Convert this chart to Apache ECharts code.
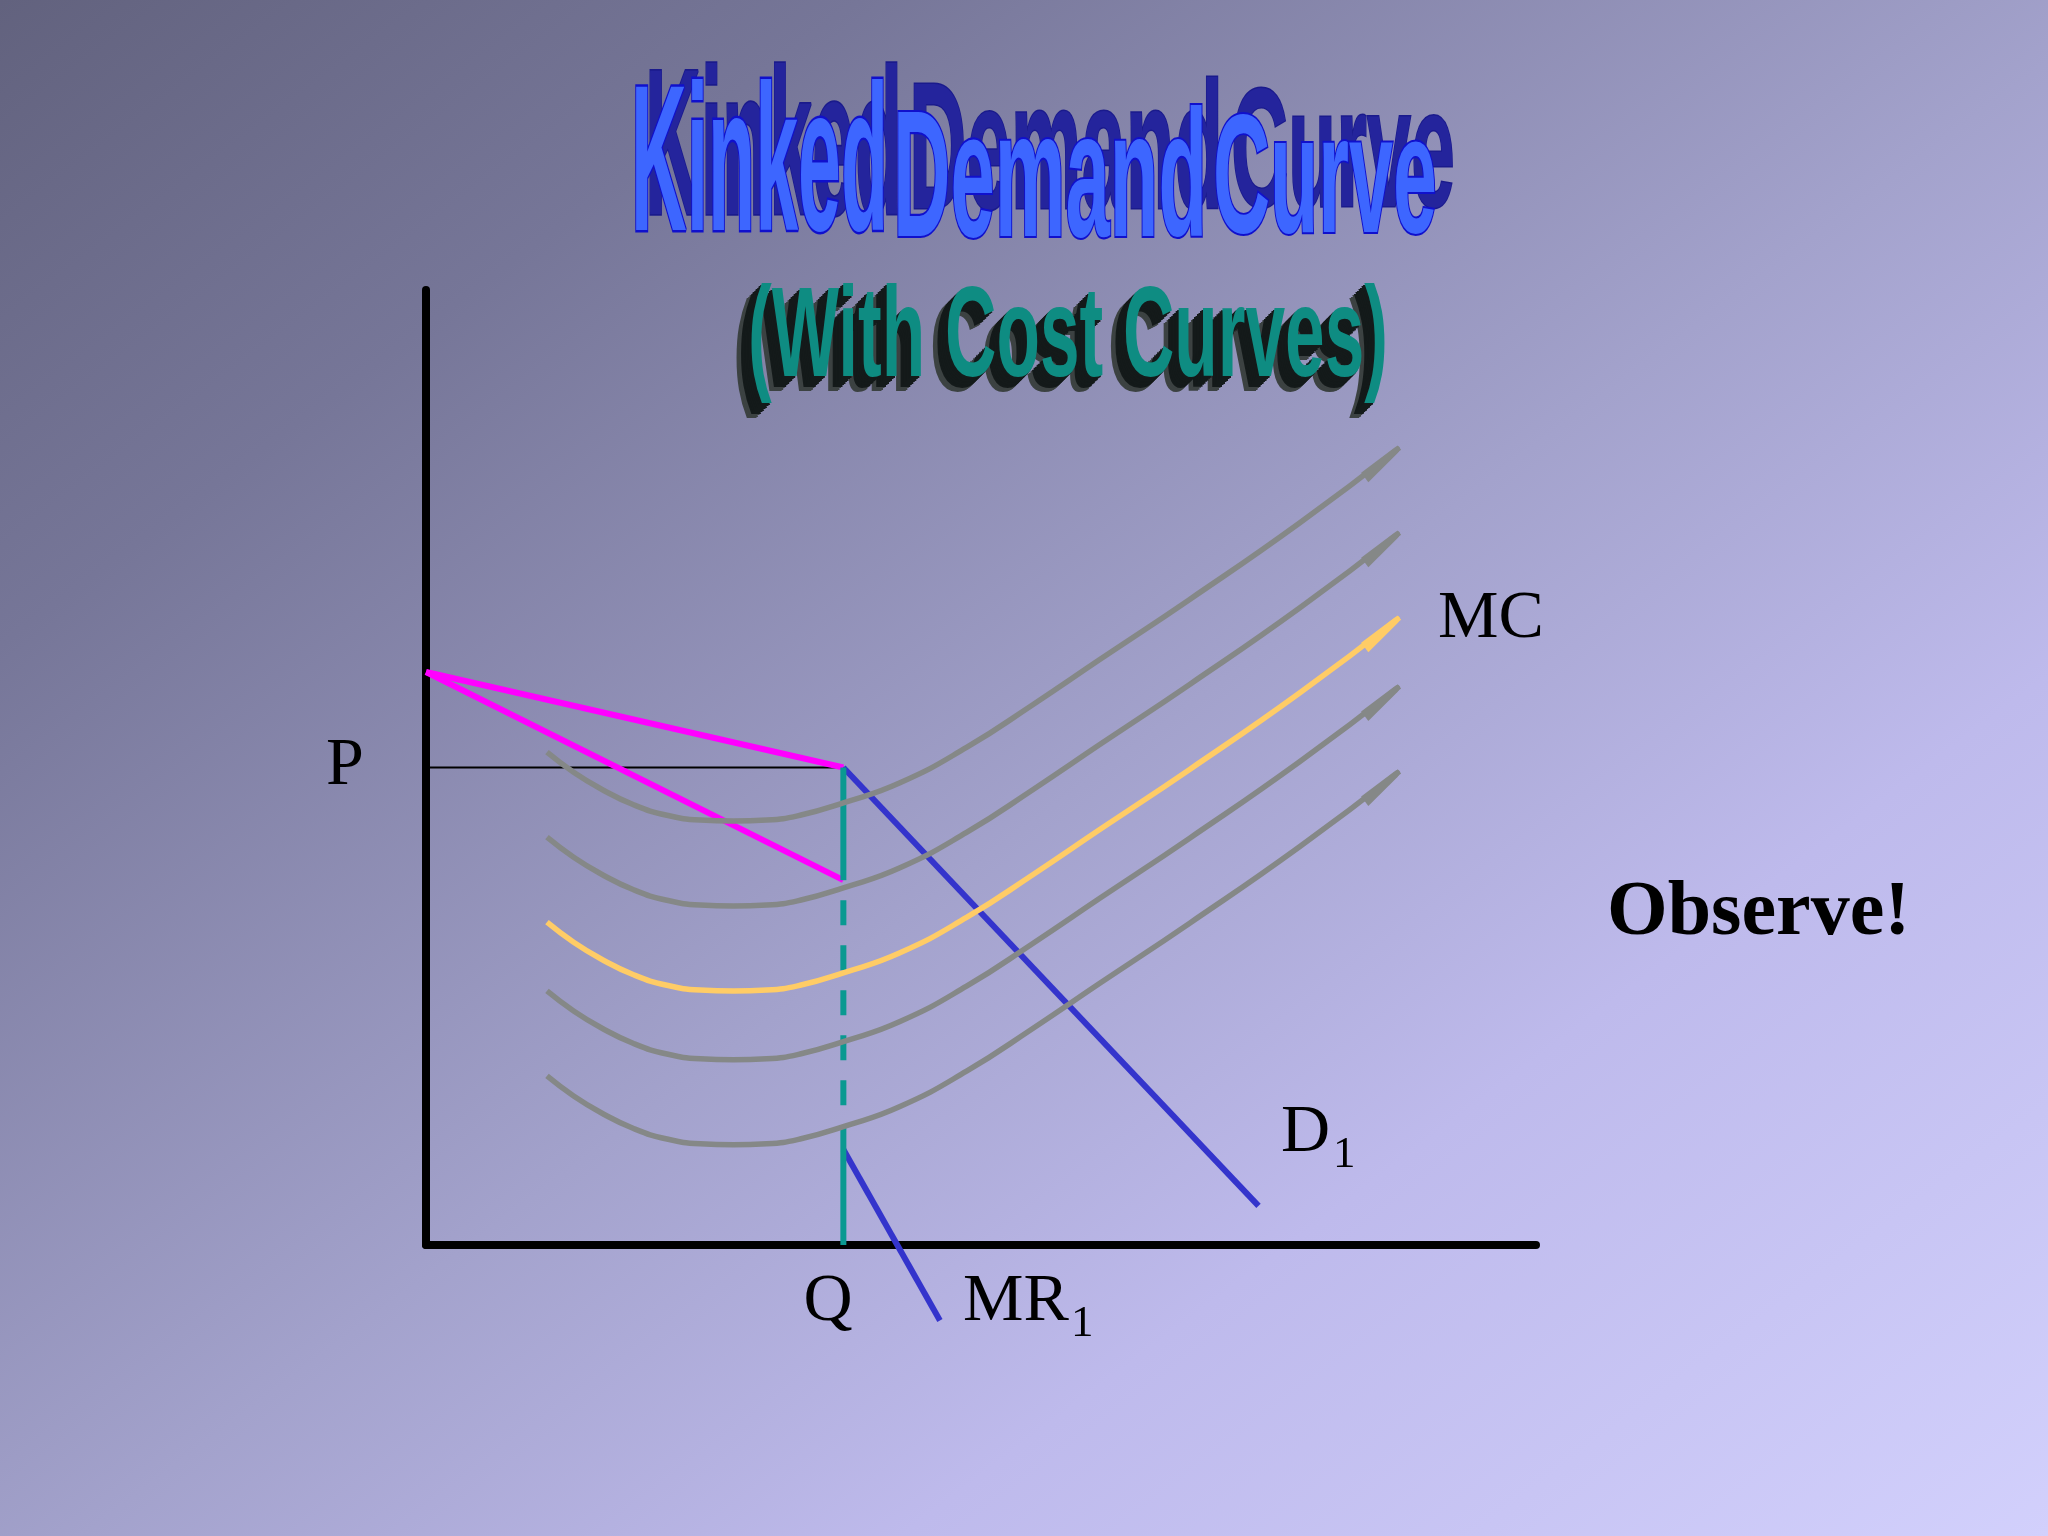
<!DOCTYPE html>
<html>
<head>
<meta charset="utf-8">
<title>Kinked Demand Curve</title>
<script src="https://cdn.jsdelivr.net/npm/echarts@6/dist/echarts.min.js"></script>
<style>
  html, body { margin: 0; padding: 0; }
  body {
    width: 2048px; height: 1536px; overflow: hidden;
    background: linear-gradient(to bottom right, #62627e 0%, #767698 21%, #a3a2cc 52%, #bebaec 72%, #d2d0fc 100%);
  }
  #chart { width: 2048px; height: 1536px; }
</style>
</head>
<body>
<div id="chart"></div>
<script>
// quantity / price scale runs 0..100 on both axes
const Q = 37.6
const P = 50

const priceLine = [[0, P], [Q, P]]
const demandUpper = [[0, 60], [Q, P]]
const mrUpper = [[0, 60], [Q, 38.2]]
const demandLower = [[Q, P], [75, 4.1]]
const mrLower = [[Q, 10], [46.3, -7.9]]
const qSolidTop = [[Q, P], [Q, 38.2]]
const qDashed = [[Q, 38.2], [Q, 12.3]]
const qSolidBottom = [[Q, 12.3], [Q, 0]]

// marginal cost curves
const costX = [10.9, 13.3, 15.7, 18.7, 21.7, 24.7, 27.7, 30.7, 33.7, 37.6, 42.7, 48.7, 54.7, 60.7, 68.8, 78.7, 87.7]
const cost1 = [51.6, 49.5, 47.8, 46.1, 45.0, 44.5, 44.4, 44.5, 45.0, 46.3, 48.4, 52.1, 56.6, 61.3, 67.6, 75.6, 83.5]
const cost2 = [42.7, 40.6, 38.9, 37.2, 36.1, 35.6, 35.5, 35.6, 36.1, 37.4, 39.5, 43.2, 47.7, 52.4, 58.7, 66.7, 74.6]
const costMC = [33.8, 31.7, 30.0, 28.3, 27.2, 26.7, 26.6, 26.7, 27.2, 28.5, 30.6, 34.3, 38.8, 43.5, 49.8, 57.8, 65.7]
const cost4 = [26.6, 24.5, 22.8, 21.1, 20.0, 19.5, 19.4, 19.5, 20.0, 21.3, 23.4, 27.1, 31.6, 36.3, 42.6, 50.6, 58.5]
const cost5 = [17.7, 15.6, 13.9, 12.2, 11.1, 10.6, 10.5, 10.6, 11.1, 12.4, 14.5, 18.2, 22.7, 27.4, 33.7, 41.7, 49.6]

const GRAY = '#858887'
const YELLOW = '#ffcc66'
const MAGENTA = '#ff00ff'
const BLUE = '#3434cc'
const TEAL = '#0a9991'

const costCurves = [
  { id: 'c1', y: cost1, color: GRAY },
  { id: 'c2', y: cost2, color: GRAY },
  { id: 'mc', y: costMC, color: YELLOW },
  { id: 'c4', y: cost4, color: GRAY },
  { id: 'c5', y: cost5, color: GRAY }
]

const chart = echarts.init(document.getElementById('chart'))

function seg (id, data, color, width, extra) {
  return Object.assign({
    id: id,
    type: 'line',
    data: data,
    symbol: 'none',
    silent: true,
    clip: false,
    lineStyle: { color: color, width: width, cap: 'butt' }
  }, extra || {})
}

function pairs (xs, ys) {
  return xs.map((x, i) => [x, ys[i]])
}

// stretch a word so it fills a box, like the word art
const measureCtx = document.createElement('canvas').getContext('2d')
function wordArt (text, font, size, left, capMid, width, capH, style, dx, dy) {
  measureCtx.font = 'bold ' + size + 'px ' + font
  const w = measureCtx.measureText(text).width
  return {
    type: 'text',
    x: left + (dx || 0),
    y: capMid + (dy || 0),
    scaleX: width / w,
    scaleY: capH / (size * 0.70),
    originX: 0,
    originY: 0,
    silent: true,
    style: Object.assign({
      text: text,
      fontSize: size,
      fontWeight: 'bold',
      fontFamily: font,
      align: 'left',
      verticalAlign: 'middle'
    }, style)
  }
}

const SANS = '"Liberation Sans", Arial, sans-serif'
const titleWords = [
  { text: 'Kinked', left: 631, mid: 172, w: 257, h: 146, dx: 14, dy: -16 },
  { text: 'Demand', left: 893, mid: 186, w: 314, h: 126, dx: 16, dy: -28 },
  { text: 'Curve', left: 1213, mid: 186, w: 224, h: 118, dx: 18, dy: -26 }
]

const graphics = []
titleWords.forEach(t => {
  graphics.push(wordArt(t.text, SANS, 60, t.left, t.mid, t.w, t.h,
    { fill: '#24249c', stroke: '#1a1a8c', lineWidth: 1 }, t.dx, t.dy))
})
titleWords.forEach(t => {
  graphics.push(wordArt(t.text, SANS, 60, t.left, t.mid, t.w, t.h,
    { fill: '#3d66ff', stroke: '#1010cc', lineWidth: 1.4 }))
})

// subtitle with a dark extrusion
const subText = '(With Cost Curves)'
for (let k = 10; k >= 1; k--) {
  graphics.push(wordArt(subText, SANS, 60, 748, 341, 640, 90,
    { fill: k > 7 ? '#3c4242' : '#141a1a' }, -k * 1.5, k * 1.5))
}
graphics.push(wordArt(subText, SANS, 60, 748, 341, 640, 90, { fill: '#0e8c82' }))

function label (text, x, y, size, align, weight) {
  return {
    type: 'text',
    x: x,
    y: y,
    silent: true,
    style: {
      text: text,
      fontSize: size,
      fontWeight: weight || 'normal',
      fontFamily: '"Liberation Serif", "Times New Roman", serif',
      fill: '#000',
      align: align || 'left',
      verticalAlign: 'middle'
    }
  }
}
graphics.push(label('P', 345, 766, 68, 'center'))
graphics.push(label('MC', 1438, 619, 68))
graphics.push(label('Q', 828, 1302, 68, 'center'))
graphics.push(label('MR', 963, 1302, 68))
graphics.push(label('1', 1071, 1324, 45))
graphics.push(label('D', 1281, 1133, 68))
graphics.push(label('1', 1333, 1155, 45))
graphics.push(label('Observe!', 1607, 914, 78, 'left', 'bold'))

const hiddenAxis = {
  type: 'value',
  min: 0,
  max: 100,
  axisLine: { show: true, onZero: false, lineStyle: { color: '#000', width: 8 } },
  axisTick: { show: false },
  axisLabel: { show: false },
  splitLine: { show: false }
}

chart.setOption({
  animation: false,
  backgroundColor: 'transparent',
  grid: { left: 426, top: 290, width: 1110, height: 955 },
  xAxis: hiddenAxis,
  yAxis: hiddenAxis,
  graphic: graphics,
  series: [
    seg('price', priceLine, '#000', 2),
    seg('dUp', demandUpper, MAGENTA, 6),
    seg('mrUp', mrUpper, MAGENTA, 6),
    seg('dLow', demandLower, BLUE, 6),
    seg('mrLow', mrLower, BLUE, 6),
    seg('qTop', qSolidTop, TEAL, 6),
    seg('qDash', qDashed, TEAL, 6, { lineStyle: { color: TEAL, width: 6, type: [25, 20], dashOffset: 25, cap: 'butt' } }),
    seg('qBottom', qSolidBottom, TEAL, 6)
  ].concat(costCurves.map(c => seg(c.id, pairs(costX, c.y), c.color, 5.5, { smooth: 0.5 })))
})

// pen-nib ends on the cost curves
const NIB = 'path://M0,-3 L40,-3 Q46,-3 45.5,0 Q44.5,2.5 40,3.5 L0,9 Z'
chart.setOption({
  series: costCurves.map(c => {
    const data = pairs(costX, c.y)
    const n = data.length
    const a = chart.convertToPixel({ gridIndex: 0 }, data[n - 2])
    const b = chart.convertToPixel({ gridIndex: 0 }, data[n - 1])
    const len = Math.hypot(b[0] - a[0], b[1] - a[1])
    const d = [(b[0] - a[0]) / len, (b[1] - a[1]) / len]
    const nrm = [-d[1], d[0]]
    const centre = [b[0] - 22.8 * d[0] + 3 * nrm[0], b[1] - 22.8 * d[1] + 3 * nrm[1]]
    return {
      id: c.id,
      markPoint: {
        silent: true,
        animation: false,
        label: { show: false },
        itemStyle: { color: c.color },
        data: [{
          coord: chart.convertFromPixel({ gridIndex: 0 }, centre),
          symbol: NIB,
          symbolSize: [46, 12],
          symbolRotate: Math.atan2(-d[1], d[0]) * 180 / Math.PI
        }]
      }
    }
  })
})
</script>
</body>
</html>
